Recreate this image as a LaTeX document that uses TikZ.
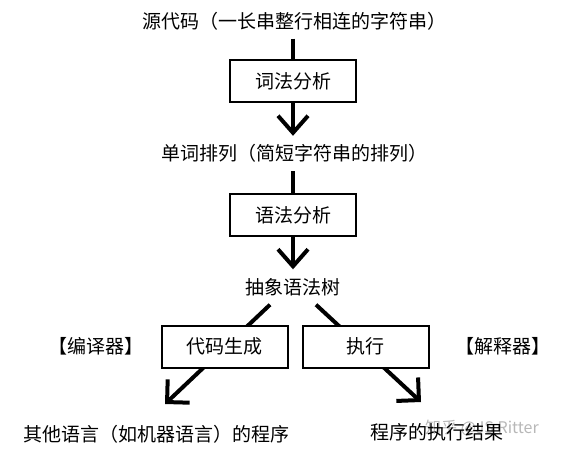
\documentclass[tikz,border=0pt]{standalone}
\usepackage{fontspec}
\setmainfont{Noto Sans CJK SC}
\usetikzlibrary{arrows.meta}
\begin{document}
\begin{tikzpicture}[x=1pt,y=-1pt,
  txt/.style={font=\fontsize{19}{22}\selectfont, text=black, text height=16.7pt, text depth=2.3pt, inner xsep=0pt, inner ysep=8pt},
  stepbox/.style={draw, line width=1.6pt, minimum width=126pt, minimum height=42pt, inner sep=0pt, fill=white, text=black,
    font=\fontsize{19}{22}\selectfont, text height=16.7pt, text depth=2.3pt},
  conn/.style={line width=4pt},
  arrv/.style={conn, -{Straight Barb[length=17pt,width=30pt,line width=4pt]}},
  arrd/.style={conn, -{Straight Barb[length=16pt,width=32pt,line width=4pt]}},
  wm/.style={font=\fontsize{16}{19}\selectfont, text=black!28, inner sep=0pt}]
\fill[white] (0,0) rectangle (575,453);
\useasboundingbox (0,0) rectangle (575,453);

% texts
\node[txt] (src) at (294,21) {源代码（一长串整行相连的字符串）};
\node[txt] (words) at (294,153.5) {单词排列（简短字符串的排列）};
\node[txt] (ast) at (293,287) {抽象语法树};

% boxes of the first two stages
\node[stepbox] (lex) at (293,81.2) {词法分析};
\node[stepbox] (syn) at (293,215) {语法分析};

% vertical connectors
\draw[conn] (lex.north |- src.south) -- (lex.north);
\draw[arrv] (lex.south) -- (lex.south |- words.north);
\draw[conn] (syn.north |- words.south) -- (syn.north);
\draw[arrv] (syn) -- (ast);

% diagonal connectors (drawn under the boxes)
\coordinate (tipL) at (165,404);
\coordinate (tipR) at (421,402);
\draw[arrd] ([xshift=-23pt]ast.south) -- (tipL);
\draw[arrd] ([xshift=23pt]ast.south) -- (tipR);

% third stage boxes
\node[stepbox] (gen) at (224.7,346.7) {代码生成};
\node[stepbox] (run) at (365.8,346.7) {执行};

% side labels
\node[txt] (comp) at (95.7,346.7) {【编译器】};
\node[txt] (interp) at (502.5,346.7) {【解释器】};

% watermark
\node[wm, anchor=west] (mark) at (425,428) {知乎 @JS Ritter};

% outputs
\node[txt] (outL) at (156.5,434) {其他语言（如机器语言）的程序};
\node[txt] (outR) at (436.7,432) {程序的执行结果};
\end{tikzpicture}
\end{document}
